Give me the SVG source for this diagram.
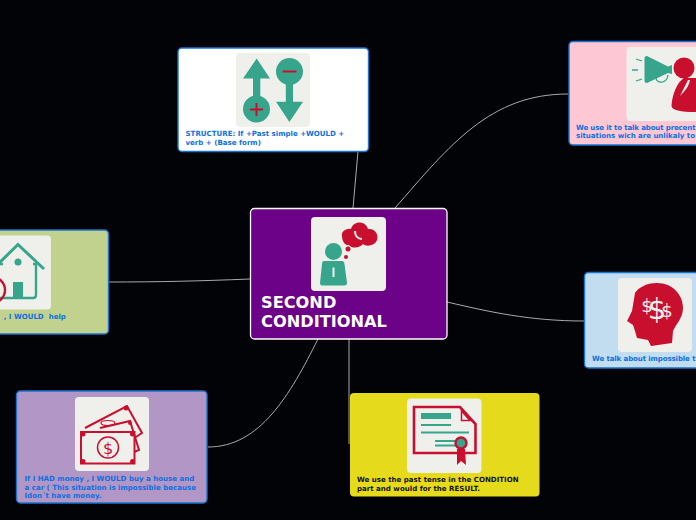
<svg xmlns="http://www.w3.org/2000/svg" width="696" height="520" viewBox="0 0 696 520">
<style>
.n{stroke:#1a73d0;stroke-width:1.4}
.ic{fill:#eff0ec}
.t{font-family:"DejaVu Sans",sans-serif;font-weight:700;font-size:7.05px;fill:#0f70e0;white-space:pre}
.k{font-family:"DejaVu Sans",sans-serif;font-weight:700;font-size:7.05px;fill:#111}
.h{font-family:"DejaVu Sans",sans-serif;font-weight:700;font-size:16.2px;fill:#fff}
.d{font-family:"DejaVu Sans",sans-serif;text-anchor:middle;fill:#eff0ec}
.g{fill:#36a58c}
.r{fill:#c8102e}
.rs{fill:none;stroke:#c8102e;stroke-width:2}
.gs{fill:none;stroke:#36a58c;stroke-width:1.300}
#connectors path{fill:none;stroke:#a9a9a9;stroke-width:1}
</style>
<rect width="696" height="520" fill="#020306"/>
<g id="connectors">
<path d="M358 151L353 208"/>
<path d="M568 94C490 94 450 145 395 208"/>
<path d="M109 282C160 282 200 281 250 279"/>
<path d="M447 302C490 312 530 321 584 321"/>
<path d="M208 447C260 447 290 395 318 339"/>
<path d="M349 339L349 444"/>
</g>
<g id="node-top">
<rect class="n" x="178" y="48" width="190.500" height="103.500" rx="4" fill="#fff"/>
<rect class="ic" x="236" y="53" width="74" height="74" rx="4"/>
<path class="g" d="M256.700 58.500L270 78.500H260.300V100H253V78.500H243Z"/>
<circle class="g" cx="256.500" cy="109" r="13.500"/>
<path d="M250 109.500H263M256.500 103V116" stroke="#c8102e" stroke-width="2"/>
<circle class="g" cx="289.500" cy="71.500" r="13.500"/>
<path d="M282.500 71.500H296.500" stroke="#c8102e" stroke-width="2"/>
<path class="g" d="M285.800 84H293V101.700H303L289.400 122L276 101.700H285.800Z"/>
<text class="t" x="185.500" y="136">STRUCTURE: If +Past simple +WOULD +</text>
<text class="t" x="185.500" y="145">verb + (Base form)</text>
</g>
<g id="node-top-right">
<rect class="n" x="569" y="41.500" width="140" height="103.500" rx="4" fill="#fdc7d4"/>
<rect class="ic" x="626.500" y="47" width="74" height="74" rx="4"/>
<path class="g" d="M644.500 58Q644.500 56 647 56L668 66.500L672 65V74L668 73L647 83Q644.500 83 644.500 81Z"/>
<path d="M632 70H638M636 59L642 61M636 81L642 79M656 78C656 84 667 84 668 75" class="gs"/>
<circle class="r" cx="684" cy="68" r="10.500"/>
<path class="r" d="M684 78C677 82 672 95 671.500 106C672 110 680 112 696 112V78Z"/>
<path d="M688 80L680 96C685 91 689 86 690 80Z" fill="#eff0ec"/>
<text class="t" x="576" y="130" textLength="119.500" lengthAdjust="spacing">We use it to talk about precent</text>
<text class="t" x="576" y="138" textLength="119" lengthAdjust="spacing">situations wich are unlikaly to</text>
</g>
<g id="node-center">
<rect x="250.500" y="208.500" width="196.500" height="130.500" rx="4" fill="#6c0287" stroke="#fff" stroke-width="1.300"/>
<rect class="ic" x="311" y="217" width="75" height="74" rx="4"/>
<circle class="g" cx="333.500" cy="251.500" r="8.500"/>
<path class="g" d="M324 261H342Q344 261 344.500 264L347 283Q347 285.500 344 285.500H322Q320 285.500 320 283L322 264Q322 261 324 261Z"/>
<path d="M333.500 267.500V277" stroke="#eff0ec" stroke-width="2"/>
<path class="r" d="M342 236C341 231 347 228 351 229C353 221 365 220 368 229C375 228 379 235 377 240C375 246 366 247 363 244C360 248 352 249 349 245C345 246 342 241 342 236Z"/>
<path d="M355 231C355 236 358 239 362 239" fill="none" stroke="#eff0ec" stroke-width="2"/>
<circle class="r" cx="348" cy="249" r="2.500"/>
<circle class="r" cx="346" cy="257" r="2"/>
<text class="h" x="261" y="308">SECOND</text>
<text class="h" x="261" y="327">CONDITIONAL</text>
</g>
<g id="node-left">
<rect class="n" x="-60" y="230" width="168.500" height="104" rx="4" fill="#c1d18e"/>
<rect class="ic" x="-23" y="235.500" width="74" height="74" rx="4"/>
<path d="M-6 268L18 244.500L44 269" fill="none" stroke="#36a58c" stroke-width="3"/>
<path d="M33 264H36V295Q36 298 33 298H-1M0 264H3" fill="none" stroke="#36a58c" stroke-width="2.400"/>
<circle class="g" cx="18" cy="262" r="3.500"/>
<rect class="g" x="13" y="282" width="10" height="16"/>
<circle cx="-8" cy="290" r="13" fill="none" stroke="#c8102e" stroke-width="2.400"/>
<text class="t" x="3.700" y="319">, I WOULD  help</text>
</g>
<g id="node-right">
<rect class="n" x="584.500" y="272.500" width="130" height="95.500" rx="4" fill="#c2dcf0"/>
<rect class="ic" x="618" y="278" width="74" height="74" rx="4"/>
<path class="r" d="M657 283C673 283 683 295 683 308C683 318 676 324 673 331L672 343L651 346L648 340L637 338L635 331L633 325L627 321L632 311L635 293C638 288 646 283 657 283Z"/>
<text class="d" x="657" y="319" font-size="29">$</text>
<text class="d" x="647" y="312" font-size="18">$</text>
<text class="d" x="667" y="317" font-size="18">$</text>
<text class="t" x="592" y="361" textLength="103.500" lengthAdjust="spacing">We talk about impossible t</text>
</g>
<g id="node-bottom-left">
<rect class="n" x="16.500" y="391" width="190.500" height="112" rx="4" fill="#b196c6"/>
<rect class="ic" x="75" y="397" width="74" height="74" rx="4"/>
<path class="rs" d="M85 428L127 406L142 433L136 437M100 428L130 421L139 450L134 452"/>
<ellipse cx="108" cy="423" rx="7" ry="2.500" class="rs" style="stroke-width:1.200"/>
<circle class="r" cx="126" cy="408" r="2.500"/><circle class="r" cx="130" cy="423" r="2"/>
<rect x="81" y="432" width="53.500" height="31.500" fill="#eff0ec" stroke="#c8102e" stroke-width="2"/>
<circle class="r" cx="83" cy="434" r="2.500"/><circle class="r" cx="132.500" cy="434" r="2.500"/><circle class="r" cx="83" cy="461.500" r="2.500"/><circle class="r" cx="132.500" cy="461.500" r="2.500"/>
<circle cx="108" cy="447.500" r="10.500" fill="none" stroke="#c8102e" stroke-width="1.500"/>
<text x="108" y="453.500" text-anchor="middle" font-family="DejaVu Sans, sans-serif" font-size="16" fill="#c8102e">$</text>
<text class="t" x="24.500" y="481">If I HAD money , I WOULD buy a house and</text>
<text class="t" x="24.500" y="489.500">a car ( This situation is impossible because</text>
<text class="t" x="24.500" y="498">Idon´t have money.</text>
</g>
<g id="node-bottom">
<rect x="350" y="393" width="189.500" height="103.500" rx="4" fill="#e6da1c"/>
<rect class="ic" x="407" y="398.500" width="74.500" height="74.500" rx="4"/>
<path d="M414 407H460L475.500 424V453H414Z" fill="none" stroke="#c8102e" stroke-width="2.600"/>
<path d="M461.500 411V420.500H470Z" fill="none" stroke="#c8102e" stroke-width="1.500"/>
<rect class="g" x="421" y="413" width="30" height="6"/>
<path d="M421 425H451M421 432.500H469M435 441H455M435 445.500H455" stroke="#36a58c" stroke-width="1.800"/>
<path class="r" d="M457 449H465L466 465L461 461L457 465Z"/>
<circle cx="461" cy="443" r="5.500" fill="#36a58c" stroke="#c8102e" stroke-width="2.400"/>
<text class="k" x="357" y="481.500">We use the past tense in the CONDITION</text>
<text class="k" x="357" y="490.500">part and would for the RESULT.</text>
</g>
</svg>
